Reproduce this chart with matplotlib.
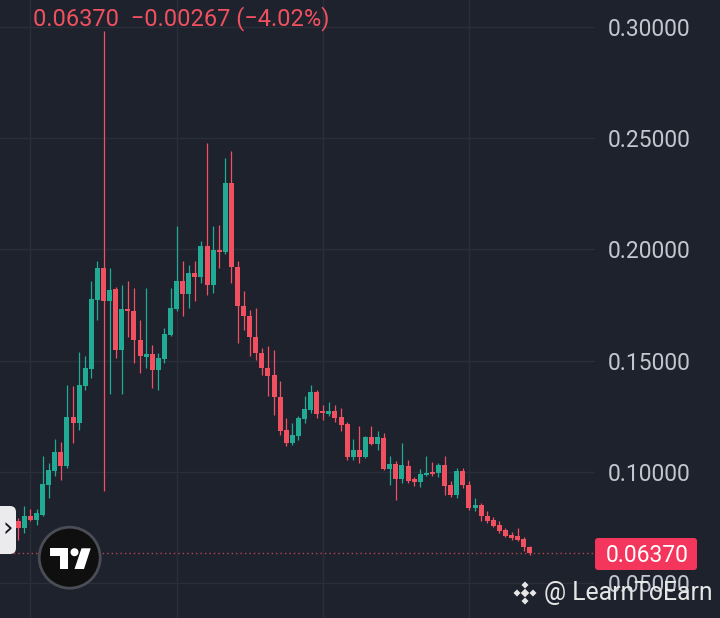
import matplotlib
matplotlib.use("Agg")
import matplotlib.pyplot as plt
from matplotlib.patches import FancyBboxPatch, Circle, Polygon, RegularPolygon
import numpy as np

# candle data (85 bars)
opens = [0.0778, 0.0748, 0.0800, 0.0782, 0.0808, 0.0943, 0.1002, 0.1088, 0.1025, 0.1247,
         0.1220, 0.1387, 0.1462, 0.1774, 0.1916, 0.1770, 0.1822, 0.1549, 0.1732, 0.1721,
         0.1594, 0.1516, 0.1531, 0.1456, 0.1507, 0.1616, 0.1732, 0.1860, 0.1801, 0.1896,
         0.1878, 0.2013, 0.1841, 0.1998, 0.1986, 0.2298, 0.1923, 0.1747, 0.1699, 0.1606,
         0.1534, 0.1467, 0.1437, 0.1337, 0.1190, 0.1130, 0.1160, 0.1238, 0.1279, 0.1359,
         0.1265, 0.1260, 0.1272, 0.1247, 0.1217, 0.1067, 0.1100, 0.1067, 0.1155, 0.1125,
         0.1152, 0.1013, 0.1037, 0.0969, 0.1028, 0.0968, 0.0953, 0.0987, 0.0995, 0.0995,
         0.1032, 0.0943, 0.0898, 0.1002, 0.0943, 0.0838, 0.0853, 0.0803, 0.0785, 0.0763,
         0.0737, 0.0718, 0.0710, 0.0699, 0.0664]
highs = [0.0794, 0.0845, 0.0833, 0.0833, 0.1070, 0.1041, 0.1149, 0.1133, 0.1392, 0.1384,
         0.1537, 0.1522, 0.1856, 0.1946, 0.2980, 0.1917, 0.1833, 0.1841, 0.1856, 0.1828,
         0.1684, 0.1828, 0.1571, 0.1534, 0.1646, 0.1826, 0.2103, 0.1946, 0.1931, 0.1946,
         0.2036, 0.2480, 0.2103, 0.2111, 0.2410, 0.2444, 0.1946, 0.1811, 0.1729, 0.1736,
         0.1557, 0.1564, 0.1549, 0.1407, 0.1242, 0.1220, 0.1249, 0.1339, 0.1392, 0.1369,
         0.1302, 0.1312, 0.1302, 0.1287, 0.1222, 0.1148, 0.1204, 0.1163, 0.1208, 0.1182,
         0.1175, 0.1073, 0.1047, 0.1130, 0.1052, 0.0977, 0.1013, 0.1070, 0.1043, 0.1040,
         0.1070, 0.0957, 0.1018, 0.1018, 0.0957, 0.0883, 0.0860, 0.0823, 0.0797, 0.0778,
         0.0748, 0.0728, 0.0748, 0.0708, 0.0668]
lows = [0.0695, 0.0727, 0.0778, 0.0763, 0.0800, 0.0884, 0.0980, 0.0962, 0.1019, 0.1131,
        0.1190, 0.1369, 0.1422, 0.1684, 0.0912, 0.1351, 0.1512, 0.1351, 0.1605, 0.1489,
        0.1444, 0.1468, 0.1377, 0.1369, 0.1489, 0.1609, 0.1721, 0.1699, 0.1736, 0.1766,
        0.1849, 0.1796, 0.1806, 0.1916, 0.1980, 0.1849, 0.1579, 0.1639, 0.1519, 0.1504,
        0.1437, 0.1339, 0.1257, 0.1167, 0.1118, 0.1122, 0.1142, 0.1220, 0.1265, 0.1242,
        0.1235, 0.1253, 0.1222, 0.1182, 0.1055, 0.1052, 0.1040, 0.1062, 0.1122, 0.1100,
        0.1010, 0.0943, 0.0875, 0.0950, 0.0950, 0.0938, 0.0932, 0.0980, 0.0980, 0.0977,
        0.0898, 0.0887, 0.0883, 0.0929, 0.0830, 0.0823, 0.0778, 0.0770, 0.0752, 0.0726,
        0.0708, 0.0695, 0.0688, 0.0645, 0.0625]
closes = [0.0748, 0.0800, 0.0782, 0.0817, 0.0947, 0.1007, 0.1088, 0.1028, 0.1247, 0.1220,
          0.1392, 0.1467, 0.1777, 0.1916, 0.1770, 0.1819, 0.1549, 0.1732, 0.1721, 0.1594,
          0.1519, 0.1531, 0.1456, 0.1512, 0.1621, 0.1736, 0.1860, 0.1801, 0.1894, 0.1878,
          0.2013, 0.1841, 0.1998, 0.1986, 0.2298, 0.1923, 0.1747, 0.1699, 0.1606, 0.1534,
          0.1467, 0.1432, 0.1337, 0.1182, 0.1130, 0.1167, 0.1242, 0.1283, 0.1359, 0.1261,
          0.1263, 0.1275, 0.1242, 0.1212, 0.1068, 0.1100, 0.1067, 0.1155, 0.1125, 0.1155,
          0.1013, 0.1037, 0.0969, 0.1032, 0.0957, 0.0953, 0.0992, 0.0995, 0.0990, 0.1032,
          0.0938, 0.0898, 0.1002, 0.0943, 0.0838, 0.0853, 0.0800, 0.0778, 0.0758, 0.0733,
          0.0713, 0.0703, 0.0692, 0.0664, 0.0637]

price_ticks = [0.05, 0.10, 0.15, 0.20, 0.25, 0.30]
last_price = "0.06370"
legend_text = "0.06370  \u22120.00267 (\u22124.02%)"
watermark = "@ LearnToEarn"

BG = '#1e222d'
GRID = '#2a2e39'
UP = '#22ab94'
DOWN = '#f0505f'
AXIS_TXT = '#c3c6ce'
FONT = ['Roboto', 'DejaVu Sans']

plt.rcParams['font.family'] = FONT

fig = plt.figure(figsize=(7.2, 6.18), dpi=100)
fig.patch.set_facecolor(BG)
ax = fig.add_axes([0, 0, 595 / 720, 1])
ax.set_facecolor(BG)

x = np.arange(len(opens))
o = np.array(opens)
c = np.array(closes)
h = np.array(highs)
l = np.array(lows)
colors = np.where(c >= o, UP, DOWN)

# wicks then bodies
ax.vlines(x, l, h, colors=colors, linewidth=0.9, zorder=3)
body_bottom = np.minimum(o, c)
body_height = np.maximum(np.abs(c - o), 0.0009)
ax.bar(x, body_height, bottom=body_bottom, width=0.82, color=colors, linewidth=0, zorder=4)

# axes ranges so the layout lines up with the screenshot
ax.set_xlim(-3.0, 94.7)
ax.set_ylim(0.0343, 0.3121)

ax.set_xticks([2, 26, 50, 74])
ax.set_xticklabels([])
ax.set_yticks(price_ticks)
ax.yaxis.tick_right()
ax.set_yticklabels([f"{t:.5f}" for t in price_ticks])
ax.tick_params(axis='y', length=0, pad=9.5, labelsize=16.5, labelcolor=AXIS_TXT)
ax.tick_params(axis='x', length=0)
ax.grid(True, color=GRID, linewidth=1.0, zorder=0)
for s in ax.spines.values():
    s.set_visible(False)

# last price line
ax.axhline(closes[-1], color=DOWN, linestyle=(0, (1, 2.2)), linewidth=1.0, alpha=0.75, zorder=2)

# overlay in pixel units for labels and decorations
ov = fig.add_axes([0, 0, 1, 1], facecolor='none')
ov.set_xlim(0, 720)
ov.set_ylim(618, 0)
ov.axis('off')

ov.text(33, 19, legend_text, color=DOWN, fontsize=17, va='center', ha='left')

ov.add_patch(FancyBboxPatch((595, 538), 102, 32, boxstyle="round,pad=0,rounding_size=3",
                            facecolor='#f5365c', edgecolor='none', zorder=5))
ov.text(647, 555, last_price, color='white', fontsize=16.5, ha='center', va='center', zorder=6)

# side collapse button
ov.add_patch(FancyBboxPatch((-6, 506), 22, 48, boxstyle="round,pad=0,rounding_size=6",
                            facecolor='#ebebee', edgecolor='none', zorder=5))
ov.text(7.5, 530, "\u203a", color='#131722', fontsize=19, ha='center', va='center', zorder=6,
        family=['DejaVu Sans'])

# TradingView logo
ov.add_patch(Circle((69.7, 557.7), 30.5, facecolor='#0f0f10', edgecolor='#4a4d55', linewidth=2, zorder=5))
ov.add_patch(Polygon([(50, 547.7), (68.3, 547.7), (68.3, 569), (60, 569), (60, 555.7), (50, 555.7)],
                     closed=True, facecolor='white', edgecolor='none', zorder=6))
ov.add_patch(Circle((74.5, 552.2), 4.0, facecolor='white', edgecolor='none', zorder=6))
ov.add_patch(Polygon([(74.5, 569), (84, 569), (90.7, 548.3), (81.5, 548.3)],
                     closed=True, facecolor='white', edgecolor='none', zorder=6))

# watermark with diamond logo
wm = '#e6e6e6'
for dx, dy, r in [(0, 0, 3.2), (-8, 0, 2.6), (8, 0, 2.6), (0, -8, 2.6), (0, 8, 2.6)]:
    ov.add_patch(RegularPolygon((525 + dx, 593 + dy), 4, radius=r * 1.35, orientation=0,
                                facecolor=wm, edgecolor='none', zorder=7))
ov.text(544, 593, watermark, color=wm, fontsize=17.8, ha='left', va='center', zorder=7)

fig.savefig("out.png", dpi=100, facecolor=BG)
